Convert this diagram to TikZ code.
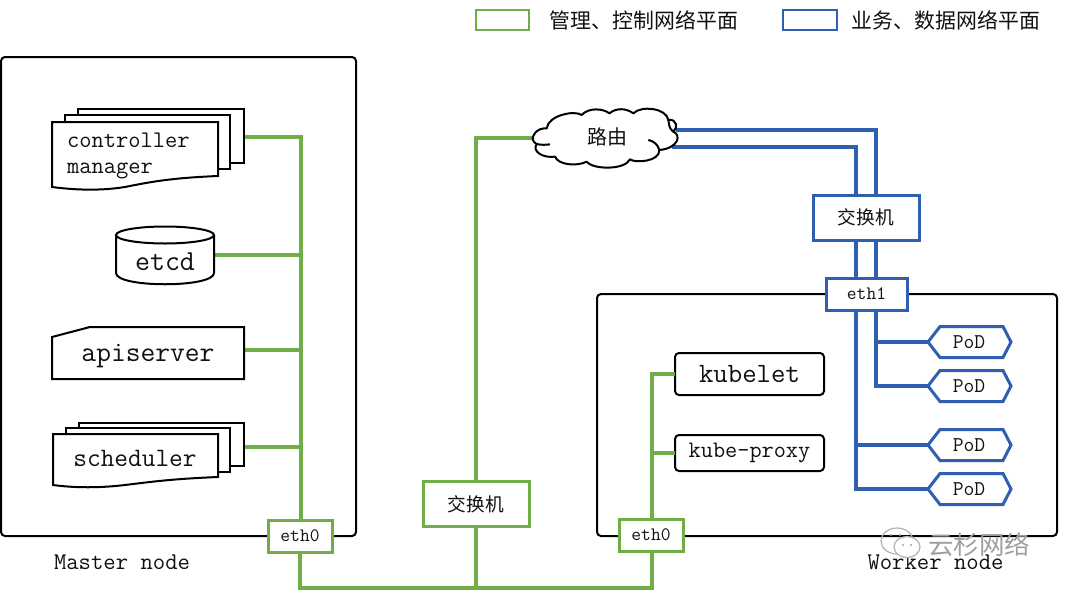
\documentclass[tikz,border=0pt]{standalone}
\usepackage{fontspec}
\newfontfamily\cjk{Noto Sans CJK SC}
\newcommand{\fs}[1]{\ttfamily\fontsize{#1}{#1}\selectfont}
\newcommand{\cs}[1]{\cjk\fontsize{#1}{#1}\selectfont}
\definecolor{grn}{HTML}{70AD47}
\definecolor{blu}{HTML}{2F5FB0}
\definecolor{ink}{HTML}{111111}
\tikzset{
  sheet/.style={draw=black,fill=white,line width=2pt,line join=miter},
  hostbox/.style={draw=black,fill=white,line width=2pt,rounded corners=4pt,inner sep=0pt,outer sep=0pt},
  compbox/.style={draw=black,fill=white,line width=2pt,rounded corners=4pt,inner sep=0pt,outer sep=0pt,text=ink},
  grnbox/.style={draw=grn,fill=white,line width=3pt,inner sep=0pt,outer sep=0pt,text=ink},
  blubox/.style={draw=blu,fill=white,line width=3pt,inner sep=0pt,outer sep=0pt,text=ink},
  grnline/.style={draw=grn,line width=4pt,line cap=butt,line join=miter},
  bluline/.style={draw=blu,line width=4pt,line cap=butt,line join=miter},
  podbox/.style={draw=blu,fill=white,line width=3pt,line join=miter},
  lbl/.style={inner sep=0pt,outer sep=0pt,text=ink},
}
\begin{document}
\begin{tikzpicture}[x=1pt,y=-1pt]
\useasboundingbox (0,0) rectangle (1066,592);
\fill[white] (0,0) rectangle (1066,592);
% host boxes
\node[hostbox,minimum width=355pt,minimum height=479pt] (master) at (178.5,296.5) {};
\node[hostbox,minimum width=460pt,minimum height=242pt] (worker) at (827,415) {};
% anchor points
\coordinate (ctrlport) at (244,137);
\coordinate (etcdport) at (214,255);
\coordinate (apiport) at (244,350);
\coordinate (schedport) at (244,447);
\coordinate (cloudwest) at (535,138);
\coordinate (cloudeasta) at (676,130);
\coordinate (cloudeastb) at (672,147);
\coordinate (mtop) at (301,137);
\coordinate (metcd) at (301,255);
\coordinate (mapi) at (301,350);
\coordinate (msched) at (301,447);
\coordinate (mbot) at (300,588);
\coordinate (swbot) at (476,588);
\coordinate (wbot) at (652,588);
\coordinate (swtop) at (476,138);
\coordinate (wkube) at (652,374);
\coordinate (wproxy) at (652,453);
\coordinate (bluA) at (876,130);
\coordinate (bluB) at (856,147);
\coordinate (bluAend) at (876,386);
\coordinate (bluBend) at (856,489);
\coordinate (bluAm) at (876,342);
\coordinate (bluBm) at (856,445);
% nodes that carry lines
\node[grnbox,minimum width=64pt,minimum height=32pt,font=\fs{19}] (eth0m) at (300,536) {eth0};
\node[grnbox,minimum width=64pt,minimum height=32pt,font=\fs{19}] (eth0w) at (651,535) {eth0};
\node[grnbox,minimum width=106pt,minimum height=45pt,font=\cs{18.7}] (swg) at (476,504) {交换机};
\node[blubox,minimum width=106pt,minimum height=45pt,font=\cs{18.7}] (swb) at (866,217.5) {交换机};
\node[blubox,minimum width=81pt,minimum height=32pt,font=\fs{19}] (eth1) at (866.5,294) {eth1};
% connectors: green
\draw[grnline] (ctrlport) -- (mtop) -- (mtop |- eth0m.north);
\draw[grnline] (etcdport) -- (metcd);
\draw[grnline] (apiport) -- (mapi);
\draw[grnline] (schedport) -- (msched);
\draw[grnline] (eth0m.south) -- (mbot) -- (wbot) -- (wbot |- eth0w.south);
\draw[grnline] (swg.south) -- (swbot);
\draw[grnline] (swg.north) -- (swtop) -- (cloudwest);
% connectors: blue
\draw[bluline] (cloudeasta) -- (bluA) -- (bluA |- swb.north);
\draw[bluline] (cloudeastb) -- (bluB) -- (bluB |- swb.north);
\draw[bluline] (bluB |- swb.south) -- (bluB |- eth1.north);
\draw[bluline] (bluA |- swb.south) -- (bluA |- eth1.north);
% worker nodes
\node[compbox,minimum width=149pt,minimum height=42pt,font=\fs{28}] (kubelet) at (749.5,374) {kubelet};
\node[compbox,minimum width=149pt,minimum height=36pt,font=\fs{23.6}] (proxy) at (749.5,453) {kube-proxy};
\draw[grnline] (kubelet.west) -- (wkube) -- (wkube |- eth0w.north);
\draw[grnline] (proxy.west) -- (wproxy);
% pods
\foreach \n/\y in {poda/342,podb/386,podc/445,podd/489}{
  \draw[podbox] (928,\y) -- (940,\y-15.5) -- (1003,\y-15.5) -- (1011,\y) -- (1003,\y+15.5) -- (940,\y+15.5) -- cycle;
  \node[lbl,font=\fs{21}] (\n) at (969,\y) {PoD};
  \coordinate (\n p) at (928,\y);
}
\draw[bluline] (bluA |- eth1.south) -- (bluAend) -- (podbp);
\draw[bluline] (bluAm) -- (podap);
\draw[bluline] (bluB |- eth1.south) -- (bluBend) -- (poddp);
\draw[bluline] (bluBm) -- (podcp);
% controller manager
\draw[sheet] (78,109) rectangle (244,163);
\draw[sheet] (65,115) rectangle (230,169);
\draw[sheet] (52,122) -- (218,122) -- (218,176) .. controls (170,178) and (150,182) .. (125,187) .. controls (100,191) and (75,190) .. (52,187) -- cycle;
\node[lbl,font=\fs{23.8},align=left,anchor=west] (ctrl) at (67,156) {controller\\[2pt]manager};
% etcd
\draw[sheet] (116,235) -- (116,273) .. controls (116,288) and (214,288) .. (214,273) -- (214,235);
\draw[sheet] (165,235) ellipse [x radius=49pt,y radius=8.5pt];
\node[lbl,font=\fs{29}] (etcd) at (165,262) {etcd};
% apiserver
\draw[sheet] (52,337) -- (90,327) -- (244,327) -- (244,379) -- (52,379) -- cycle;
\node[lbl,font=\fs{28.7}] (api) at (148,356) {apiserver};
% scheduler
\draw[sheet] (79,423) rectangle (244,466);
\draw[sheet] (66,428) rectangle (230,472);
\draw[sheet] (53,434) -- (218,434) -- (218,477) .. controls (170,479) and (150,482) .. (125,485) .. controls (100,488) and (75,488) .. (53,485) -- cycle;
\node[lbl,font=\fs{26.6}] (sched) at (135,458) {scheduler};
% cloud
\begin{scope}[shift={(520,100)},x=0.3333pt,y=-0.3333pt]
\draw[fill=white,draw=black,line width=2pt,line join=round]
 (40,108) .. controls (50,85) and (70,85) .. (80,85)
 .. controls (85,45) and (165,30) .. (185,45)
 .. controls (205,22) and (250,25) .. (268,40)
 .. controls (290,22) and (320,25) .. (340,40)
 .. controls (365,15) and (440,25) .. (445,60)
 .. controls (470,55) and (475,85) .. (460,95)
 .. controls (485,105) and (475,145) .. (418,150)
 .. controls (420,185) and (345,190) .. (330,178)
 .. controls (315,210) and (220,210) .. (200,185)
 .. controls (170,200) and (115,195) .. (105,170)
 .. controls (70,175) and (35,155) .. (50,132)
 .. controls (40,128) and (35,115) .. (40,108) -- cycle;
\draw[draw=black,line width=2pt] (50,132) .. controls (62,135) and (78,135) .. (90,133);
\draw[draw=black,line width=2pt] (385,120) .. controls (400,122) and (415,135) .. (418,150);
\draw[draw=black,line width=2pt] (445,60) .. controls (448,70) and (445,85) .. (460,95);
\end{scope}
\node[lbl,font=\cs{20}] (router) at (607,137) {路由};
% captions
\node[lbl,font=\fs{24}] (mcap) at (122,562) {Master node};
\node[lbl,font=\fs{24}] (wcap) at (935.5,562) {Worker node};
% legend
\node[draw=grn,fill=white,line width=2.5pt,minimum width=53pt,minimum height=20pt,inner sep=0pt] (lg) at (502.5,20) {};
\node[lbl,font=\cs{20.9}] (lgt) at (644,20) {管理、控制网络平面};
\node[draw=blu,fill=white,line width=2.5pt,minimum width=54pt,minimum height=20pt,inner sep=0pt] (lb) at (810,20) {};
\node[lbl,font=\cs{20.9}] (lbt) at (946,20) {业务、数据网络平面};
% watermark
\draw[gray!60,line width=1.2pt] (897,541) ellipse [x radius=16pt,y radius=13pt];
\draw[gray!60,line width=1.2pt,fill=white] (907,547) ellipse [x radius=13pt,y radius=10.5pt];
\fill[gray!70] (891,535) circle (1.2pt) (900,535) circle (1.2pt) (903,545) circle (1.2pt) (911,545) circle (1.2pt);
\node[lbl,font=\cs{25.5},text=gray!75] (wm) at (979,545) {云杉网络};
\end{tikzpicture}
\end{document}
